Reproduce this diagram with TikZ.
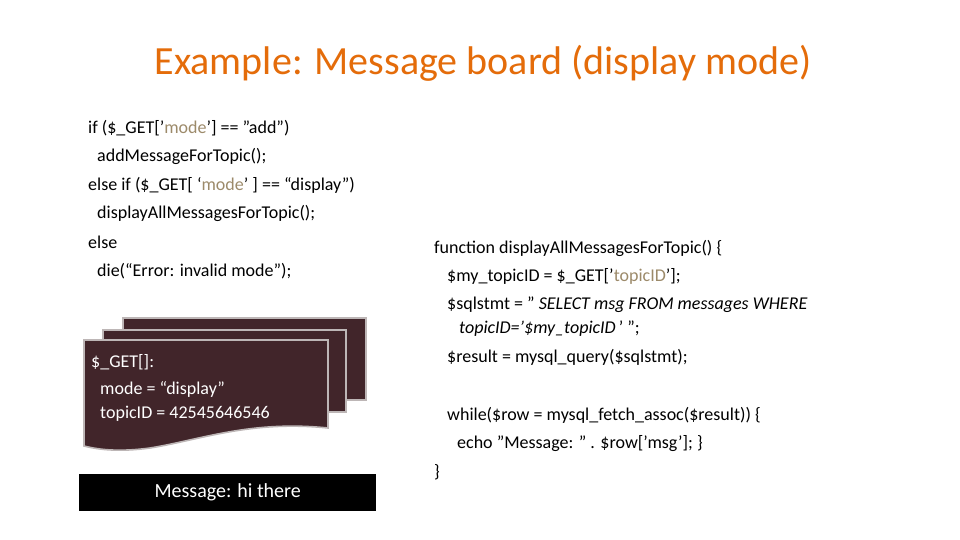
\documentclass[tikz,border=0pt]{standalone}
\usepackage{fontspec}
\setmainfont{Carlito}
\definecolor{ttl}{HTML}{E46C0A}
\definecolor{hl}{HTML}{9C8A6A}
\definecolor{doc}{HTML}{41252A}
\definecolor{docb}{HTML}{BDB6B6}
\begin{document}
\begin{tikzpicture}[x=1pt,y=-1pt,
  code/.style={anchor=west,inner sep=0pt,font=\fontsize{18}{20}\selectfont},
  wtxt/.style={anchor=west,inner sep=0pt,font=\fontsize{18}{20}\selectfont,text=white},
  docshape/.style={fill=doc,draw=docb,line width=1.6pt}]
\useasboundingbox (0,0) rectangle (960,540);
\node[inner sep=0pt,text=ttl,font=\fontsize{40}{44}\selectfont] (title) at (483,63) {Example: Message board (display mode)};
% left code
\node[code] (l1) at (88,128) {if (\$\_GET['\textcolor{hl}{mode}'] == "add")};
\node[code] (l2) at (97,156) {addMessageForTopic();};
\node[code] (l3) at (88,185) {else if (\$\_GET[ ‘\textcolor{hl}{mode}’ ] == “display”)};
\node[code] (l4) at (97,213) {displayAllMessagesForTopic();};
\node[code] (l5) at (88,242) {else};
\node[code] (l6) at (97,271) {die(“Error: invalid mode”);};
% stacked documents
\path[docshape] (123,318) rectangle (366,400);
\path[docshape] (103,330) rectangle (346,412);
\path[docshape] (84,340) -- (328,340) -- (328,428) .. controls (250,420) and (200,440) .. (150,448) .. controls (120,452) and (100,450) .. (84,446) -- cycle;
\node[wtxt] (d1) at (91,362) {\$\_GET[]:};
\node[wtxt] (d2) at (100,389) {mode = “display”};
\node[wtxt] (d3) at (100,414) {topicID = 42545646546};
% message box
\node[fill=black,minimum width=297pt,minimum height=37pt,inner sep=0pt,text=white,font=\fontsize{20}{22}\selectfont,anchor=north west] (msg) at (79,474) {Message: hi there};
% right code
\node[code] (r1) at (434,248) {function displayAllMessagesForTopic() \{};
\node[code] (r2) at (447,276) {\$my\_topicID = \$\_GET['\textcolor{hl}{topicID}'];};
\node[code] (r3) at (447,305) {\$sqlstmt = ” \textit{SELECT msg FROM messages WHERE}};
\node[code] (r4) at (459,329) {\textit{topicID='\$my\_topicID}\,’ ";};
\node[code] (r5) at (447,357) {\$result = mysql\_query(\$sqlstmt);};
\node[code] (r6) at (447,415) {while(\$row = mysql\_fetch\_assoc(\$result)) \{};
\node[code] (r7) at (457,444) {echo "Message: " . \$row['msg']; \}};
\node[code] (r8) at (434,472) {\}};
\end{tikzpicture}
\end{document}
